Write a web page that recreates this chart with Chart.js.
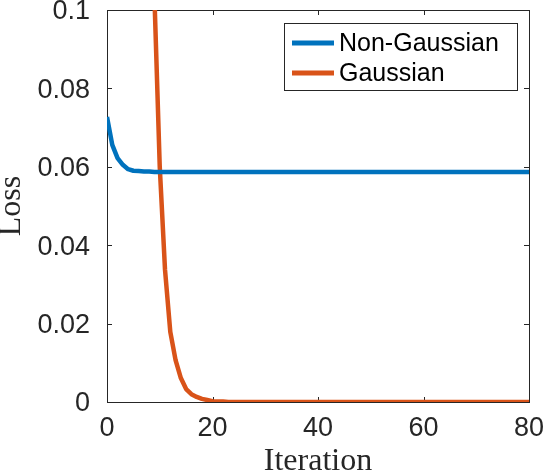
<!DOCTYPE html>
<html>
<head>
<meta charset="utf-8">
<script src="https://cdn.jsdelivr.net/npm/chart.js@4.4.1/dist/chart.umd.min.js"></script>
<style>
  html, body { margin: 0; padding: 0; background: #fff; }
  #wrap { width: 545px; height: 474px; }
</style>
</head>
<body>
<div id="wrap"><canvas id="lossChart"></canvas></div>
<script>
// ===== Data =====
const iterations = [
  0, 1, 2, 3, 4, 5, 6, 7, 8, 9, 10, 11, 12, 13, 14, 15, 16, 17, 18, 19, 20,
  21, 22, 23, 24, 25, 26, 27, 28, 29, 30, 31, 32, 33, 34, 35, 36, 37, 38, 39, 40,
  41, 42, 43, 44, 45, 46, 47, 48, 49, 50, 51, 52, 53, 54, 55, 56, 57, 58, 59, 60,
  61, 62, 63, 64, 65, 66, 67, 68, 69, 70, 71, 72, 73, 74, 75, 76, 77, 78, 79, 80
];

const nonGaussian = [
  0.0727, 0.0656, 0.0622, 0.0605, 0.0594, 0.0590, 0.0589, 0.0588, 0.0588, 0.0587, 0.0587,
  0.0587, 0.0587, 0.0587, 0.0587, 0.0587, 0.0587, 0.0587, 0.0587, 0.0587, 0.0587,
  0.0587, 0.0587, 0.0587, 0.0587, 0.0587, 0.0587, 0.0587, 0.0587, 0.0587, 0.0587,
  0.0587, 0.0587, 0.0587, 0.0587, 0.0587, 0.0587, 0.0587, 0.0587, 0.0587, 0.0587,
  0.0587, 0.0587, 0.0587, 0.0587, 0.0587, 0.0587, 0.0587, 0.0587, 0.0587, 0.0587,
  0.0587, 0.0587, 0.0587, 0.0587, 0.0587, 0.0587, 0.0587, 0.0587, 0.0587, 0.0587,
  0.0587, 0.0587, 0.0587, 0.0587, 0.0587, 0.0587, 0.0587, 0.0587, 0.0587, 0.0587,
  0.0587, 0.0587, 0.0587, 0.0587, 0.0587, 0.0587, 0.0587, 0.0587, 0.0587, 0.0587
];

// first iterations are far above the visible range (clipped at 0.1)
const gaussian = [
  2.1, 1.5, 1.1, 0.8, 0.6, 0.45, 0.33, 0.25, 0.19, 0.103, 0.0600,
  0.0337, 0.0179, 0.0107, 0.0061, 0.0033, 0.0020, 0.0013, 0.0008, 0.0005, 0.0002,
  0.0001, 0.0001, 0.0000, 0.0000, 0.0000, 0.0000, 0.0000, 0.0000, 0.0000, 0.0000,
  0.0000, 0.0000, 0.0000, 0.0000, 0.0000, 0.0000, 0.0000, 0.0000, 0.0000, 0.0000,
  0.0000, 0.0000, 0.0000, 0.0000, 0.0000, 0.0000, 0.0000, 0.0000, 0.0000, 0.0000,
  0.0000, 0.0000, 0.0000, 0.0000, 0.0000, 0.0000, 0.0000, 0.0000, 0.0000, 0.0000,
  0.0000, 0.0000, 0.0000, 0.0000, 0.0000, 0.0000, 0.0000, 0.0000, 0.0000, 0.0000,
  0.0000, 0.0000, 0.0000, 0.0000, 0.0000, 0.0000, 0.0000, 0.0000, 0.0000, 0.0000
];

const xTicks = [0, 20, 40, 60, 80];
const xTickLabels = ['0', '20', '40', '60', '80'];
const yTicks = [0, 0.02, 0.04, 0.06, 0.08, 0.1];
const yTickLabels = ['0', '0.02', '0.04', '0.06', '0.08', '0.1'];

const seriesNames = ['Non-Gaussian', 'Gaussian'];

// ===== Styles =====
const AXIS_COLOR = '#262626';
const BLUE = '#0072BD';
const ORANGE = '#D95319';
const SANS = '"Liberation Sans", Arial, sans-serif';
const SERIF = '"Liberation Serif", "Times New Roman", serif';

// ===== Plugins =====
// MATLAB style box with inward ticks on all four sides
const axesBox = {
    id: 'axesBox',
    beforeDatasetsDraw(chart) {
        const { ctx, chartArea: a, scales: { x, y } } = chart;
        const tl = 5;
        ctx.save();
        ctx.strokeStyle = AXIS_COLOR;
        ctx.lineWidth = 1;
        ctx.strokeRect(a.left + 0.5, a.top + 0.5, a.right - a.left, a.bottom - a.top);
        ctx.beginPath();
        xTicks.forEach(v => {
            const px = Math.round(x.getPixelForValue(v)) + 0.5;
            ctx.moveTo(px, a.bottom); ctx.lineTo(px, a.bottom - tl);
            ctx.moveTo(px, a.top); ctx.lineTo(px, a.top + tl);
        });
        yTicks.forEach(v => {
            const py = Math.round(y.getPixelForValue(v)) + 0.5;
            ctx.moveTo(a.left, py); ctx.lineTo(a.left + tl, py);
            ctx.moveTo(a.right, py); ctx.lineTo(a.right - tl, py);
        });
        ctx.stroke();
        ctx.restore();
    }
};

// legend box in the upper right corner of the axes
const boxLegend = {
    id: 'boxLegend',
    afterDraw(chart) {
        const { ctx, chartArea: a } = chart;
        const w = 233, h = 67;
        const bx = a.right - 12 - w, by = a.top + 13;
        ctx.save();
        ctx.fillStyle = '#fff';
        ctx.fillRect(bx, by, w, h);
        ctx.strokeStyle = AXIS_COLOR;
        ctx.lineWidth = 1;
        ctx.strokeRect(bx + 0.5, by + 0.5, w, h);
        ctx.font = '25px ' + SANS;
        ctx.textBaseline = 'middle';
        ctx.fillStyle = '#000';
        chart.data.datasets.forEach((ds, i) => {
            const cy = by + 20 + i * 30;
            ctx.strokeStyle = ds.borderColor;
            ctx.lineWidth = 5;
            ctx.beginPath();
            ctx.moveTo(bx + 8, cy); ctx.lineTo(bx + 50, cy);
            ctx.stroke();
            ctx.fillText(ds.label, bx + 55, cy + 1);
        });
        ctx.restore();
    }
};

// ===== Chart =====
const ctx = document.getElementById('lossChart').getContext('2d');
const lossChart = new Chart(ctx, {
    type: 'line',
    data: {
        labels: iterations,
        datasets: [
            { label: seriesNames[0], data: nonGaussian, borderColor: BLUE, borderWidth: 4.5 },
            { label: seriesNames[1], data: gaussian, borderColor: ORANGE, borderWidth: 4.5 }
        ]
    },
    options: {
        responsive: true,
        maintainAspectRatio: false,
        animation: false,
        devicePixelRatio: 1,
        layout: { padding: { top: 10, right: 16, left: 0, bottom: 0 } },
        elements: {
            point: { radius: 0, hoverRadius: 0 },
            line: { tension: 0, borderJoinStyle: 'round', borderCapStyle: 'butt' }
        },
        plugins: { legend: { display: false }, tooltip: { enabled: false } },
        scales: {
            x: {
                type: 'linear',
                min: 0,
                max: 80,
                grid: { display: false, drawTicks: false },
                border: { display: false },
                afterBuildTicks: s => { s.ticks = xTicks.map(v => ({ value: v })); },
                afterFit: s => { s.height = 72; s.paddingLeft = 0; s.paddingRight = 0; },
                ticks: {
                    padding: 10,
                    color: AXIS_COLOR,
                    font: { family: SANS, size: 27 },
                    maxRotation: 0,
                    callback: (v, i) => xTickLabels[i]
                },
                title: {
                    display: true,
                    text: 'Iteration',
                    color: AXIS_COLOR,
                    padding: 0,
                    font: { family: SERIF, size: 32, lineHeight: 0.8 }
                }
            },
            y: {
                min: 0,
                max: 0.1,
                grid: { display: false, drawTicks: false },
                border: { display: false },
                afterBuildTicks: s => { s.ticks = yTicks.map(v => ({ value: v })); },
                afterFit: s => { s.width = 107; s.paddingTop = 0; s.paddingBottom = 0; },
                ticks: {
                    padding: 17,
                    labelOffset: 2,
                    color: AXIS_COLOR,
                    font: { family: SANS, size: 27 },
                    callback: (v, i) => yTickLabels[i]
                },
                title: {
                    display: true,
                    text: 'Loss',
                    color: AXIS_COLOR,
                    padding: 0,
                    font: { family: SERIF, size: 32, lineHeight: 0.7 }
                }
            }
        }
    },
    plugins: [axesBox, boxLegend]
});
</script>
</body>
</html>
